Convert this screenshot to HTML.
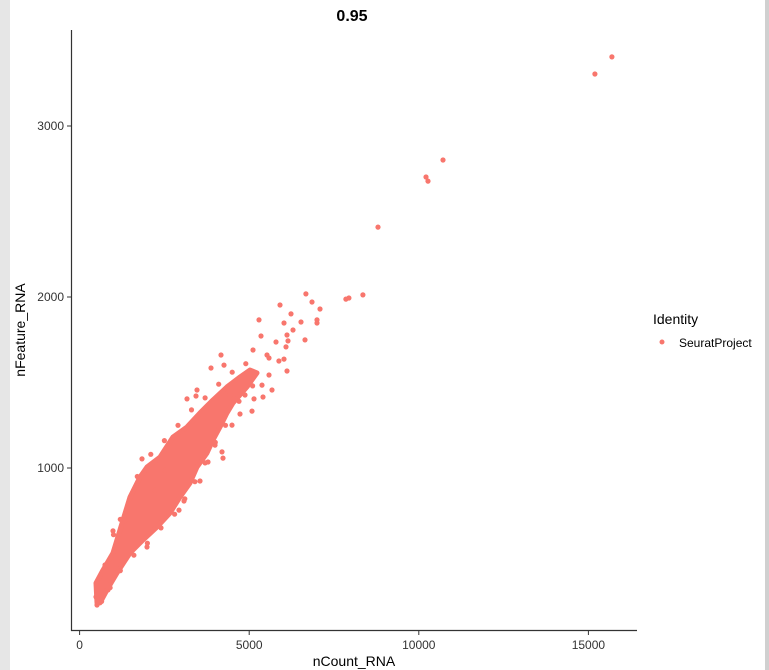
<!DOCTYPE html>
<html><head><meta charset="utf-8"><style>
html,body{margin:0;padding:0;background:#fff;}
svg{display:block;font-family:"Liberation Sans",Arial,sans-serif;}
</style></head><body>
<svg id="chart" width="769" height="670" viewBox="0 0 769 670">
<rect x="0" y="0" width="10" height="670" fill="#e6e6e6"/>
<rect x="765" y="0" width="4" height="670" fill="#d0d0d0"/>
<text x="352" y="21" text-anchor="middle" font-size="16" font-weight="bold" fill="#000">0.95</text>
<g id="cloud"></g>
<g id="points"></g>
<line x1="71.5" y1="30" x2="71.5" y2="631" stroke="#333" stroke-width="1.2"/>
<line x1="71" y1="630.5" x2="637" y2="630.5" stroke="#333" stroke-width="1.2"/>
<g id="xticks"></g>
<g id="yticks"></g>
<text x="354" y="666" text-anchor="middle" font-size="14" fill="#000">nCount_RNA</text>
<text transform="translate(25,330) rotate(-90)" text-anchor="middle" font-size="14" fill="#000">nFeature_RNA</text>
<g>
<text x="653" y="324" font-size="14" fill="#000">Identity</text>
<circle cx="662" cy="342" r="2.5" fill="#F8766D"/>
<text x="679" y="347" font-size="12" fill="#000">SeuratProject</text>
</g>
</svg>
<script>
const xTicks=[0,5000,10000,15000];
const yTicks=[1000,2000,3000];
const ptX=[15693,15192,10713,10213,10272,8797,8352,7940,7852,6673,5907,6850,7087,6231,6025,6526,6998,6998,5288,5347,5789,6143,6290,6113,6644,6084,6025,6113,5877,5583,5524,5583,4168,3874,4257,5112,5406,5141,5082,4728,3166,3431,3461,1839,985,1987,4227,3785,4198,3549,3078,2930,2635,4434,4728,5377,5671,4875,4493,3992,2518,2223,1339,749,837,513,483,
1000,1200,1500,1700,2100,2500,2900,3300,3700,4100,4500,4900,5100,4700,4300,4000,3700,3400,3100,2800,2400,2000,1600,1200,900,650];
const ptY=[3404,3304,2801,2702,2678,2409,2012,1994,1988,2018,1953,1971,1930,1901,1848,1854,1866,1848,1866,1772,1737,1743,1807,1778,1749,1708,1637,1567,1626,1643,1661,1544,1661,1585,1602,1690,1415,1404,1333,1316,1404,1421,1456,1053,632,538,1058,1035,1094,924,807,754,737,1427,1515,1485,1456,1427,1251,1134,988,871,696,433,287,199,246,
610,700,830,950,1080,1160,1250,1340,1410,1490,1560,1610,1480,1390,1250,1150,1030,920,820,730,650,560,490,400,300,220];
const hullX=[513,483,690,985,1279,1486,1781,1987,2370,2753,3166,3549,3933,4345,4728,5023,5230,4935,4522,4345,4139,3933,3756,3461,3255,2960,2665,2282,1869,1486,1103,808,601];
const hullY=[211,327,403,503,696,830,947,1006,1064,1181,1240,1322,1398,1474,1532,1573,1556,1474,1380,1322,1240,1164,1088,1006,912,830,737,655,579,503,386,287,211];
const NS='http://www.w3.org/2000/svg';
function sx(v){return 79.6+v*0.03392;}
function sy(v){return 639-v*0.171;}
const cloud=document.getElementById('cloud');
const poly=document.createElementNS(NS,'polygon');
poly.setAttribute('points',hullX.map((x,i)=>sx(x).toFixed(1)+','+sy(hullY[i]).toFixed(1)).join(' '));
poly.setAttribute('fill','#F8766D');
poly.setAttribute('stroke','#F8766D');
poly.setAttribute('stroke-width','5');
poly.setAttribute('stroke-linejoin','round');


cloud.appendChild(poly);
const pg=document.getElementById('points');
for(let i=0;i<ptX.length;i++){
 const c=document.createElementNS(NS,'circle');
 c.setAttribute('cx',sx(ptX[i]).toFixed(1));
 c.setAttribute('cy',sy(ptY[i]).toFixed(1));
 c.setAttribute('r','2.6');
 c.setAttribute('fill','#F8766D');
 
 
 pg.appendChild(c);
}
const xg=document.getElementById('xticks');
xTicks.forEach(t=>{
 const l=document.createElementNS(NS,'line');
 l.setAttribute('x1',sx(t));l.setAttribute('x2',sx(t));
 l.setAttribute('y1',631);l.setAttribute('y2',635);
 l.setAttribute('stroke','#333');
 
 
 xg.appendChild(l);
 const tx=document.createElementNS(NS,'text');
 tx.setAttribute('x',sx(t));tx.setAttribute('y',649);
 tx.setAttribute('text-anchor','middle');tx.setAttribute('font-size','12');tx.setAttribute('fill','#333');
 tx.textContent=t;
 
 
 xg.appendChild(tx);
});
const yg=document.getElementById('yticks');
yTicks.forEach(t=>{
 const l=document.createElementNS(NS,'line');
 l.setAttribute('x1',67);l.setAttribute('x2',71);
 l.setAttribute('y1',sy(t));l.setAttribute('y2',sy(t));
 l.setAttribute('stroke','#333');
 
 
 yg.appendChild(l);
 const tx=document.createElementNS(NS,'text');
 tx.setAttribute('x',64);tx.setAttribute('y',sy(t)+4);
 tx.setAttribute('text-anchor','end');tx.setAttribute('font-size','12');tx.setAttribute('fill','#333');
 tx.textContent=t;
 
 
 yg.appendChild(tx);
});
</script>
</body></html>
